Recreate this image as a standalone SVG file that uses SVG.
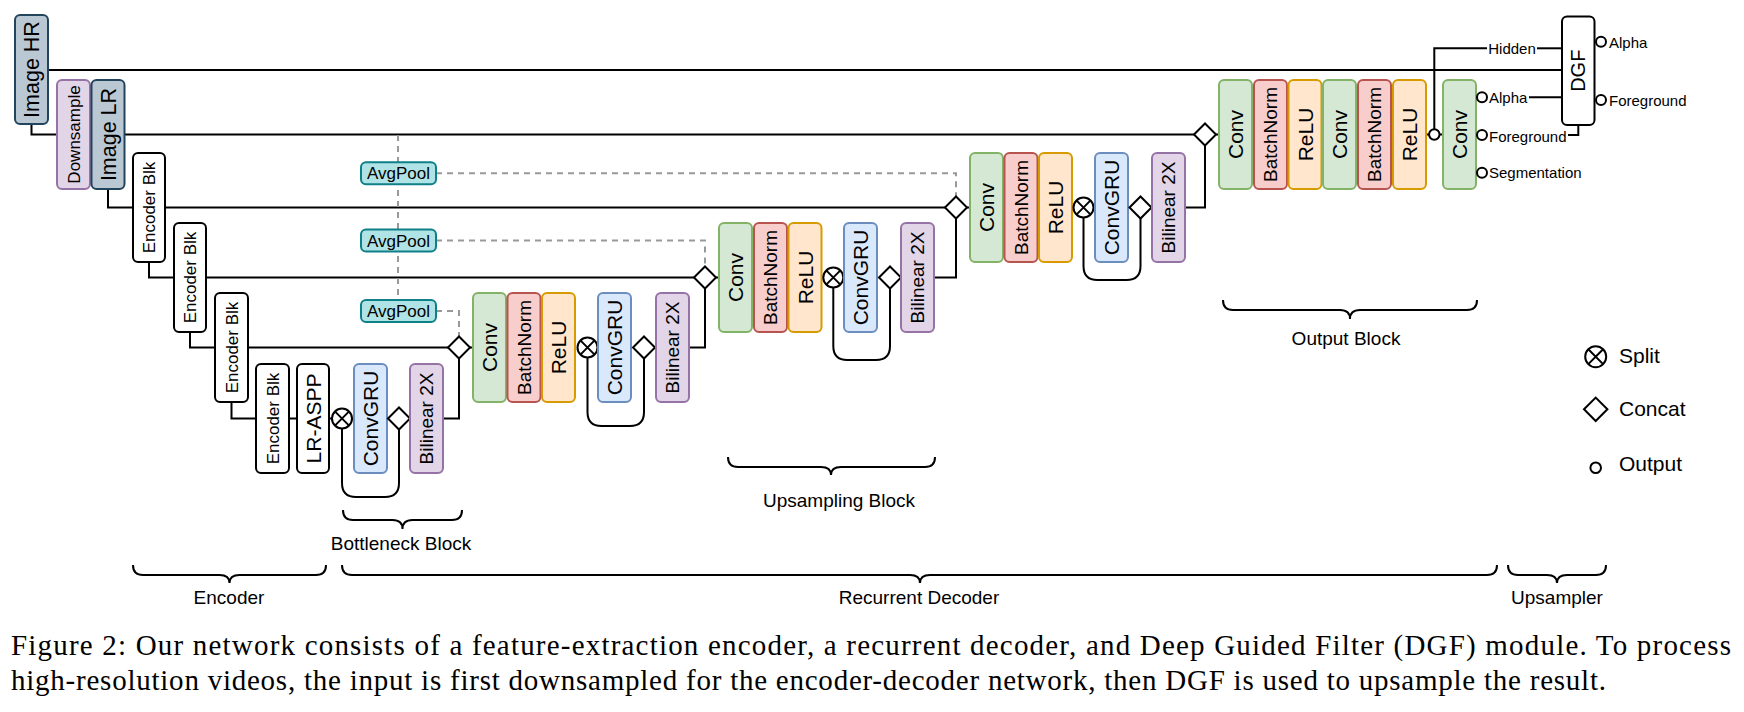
<svg xmlns="http://www.w3.org/2000/svg" width="1744" height="712" viewBox="0 0 1744 712">
<style>
text{font-family:"Liberation Sans",Arial,Helvetica,sans-serif;fill:#000}
.b{stroke-width:2}
.w{fill:#fff;stroke:#000}
.img{fill:#bac8d3;stroke:#23445d}
.pu{fill:#e1d5e7;stroke:#9673a6}
.gr{fill:#d5e8d4;stroke:#82b366}
.rd{fill:#f8cecc;stroke:#b85450}
.or{fill:#ffe6cc;stroke:#d79b00}
.bl{fill:#dae8fc;stroke:#6c8ebf}
.te{fill:#b0e3e6;stroke:#0e8088}
.vt{text-anchor:middle}
.f21{font-size:21px}
.f19{font-size:19px}
.f17{font-size:17px}
.f15{font-size:15px}
.lbl{font-size:19px;text-anchor:middle}
.ln{fill:none;stroke:#000;stroke-width:2}
.dash{fill:none;stroke:#999;stroke-width:2;stroke-dasharray:6 5}
.sym{fill:#fff;stroke:#000;stroke-width:2}
text.cap{font-family:"Liberation Serif","Times New Roman",serif;font-size:29px}
</style>

<!-- connectors -->
<g id="connectors">
  <path class="ln" d="M48 70 H1562"/>
  <path class="ln" d="M31.5 124 V134.5 H57"/>
  <path class="ln" d="M124.5 134.5 H1194"/>
  <path class="ln" d="M108 189 V207.5 H133"/>
  <path class="ln" d="M165 207.5 H945"/>
  <path class="ln" d="M149 262 V277.5 H174"/>
  <path class="ln" d="M206 277.5 H694"/>
  <path class="ln" d="M190 332 V347.5 H215"/>
  <path class="ln" d="M248 347.5 H448"/>
  <path class="ln" d="M231.5 402 V418.5 H256"/>
  <path class="ln" d="M289 418.5 H297"/>
  <path class="ln" d="M329 418.5 H332"/>
  <path class="ln" d="M352 418.5 H354"/>
  <path class="ln" d="M387 418.5 H388"/>
  <path class="ln" d="M342 428.5 V483 Q342 497 356 497 H385 Q399 497 399 483 V429.5"/>
  <path class="ln" d="M443 418.5 H459 V358.5"/>
  <path class="ln" d="M470 347.5 H473"/>
  <path class="ln" d="M587.5 357.5 V412 Q587.5 426 601.5 426 H630 Q644 426 644 412 V358.5"/>
  <path class="ln" d="M689 347.5 H705 V288.5"/>
  <path class="ln" d="M716 277.5 H719"/>
  <path class="ln" d="M833.3 287.5 V346 Q833.3 360 847.3 360 H876 Q890 360 890 346 V288.5"/>
  <path class="ln" d="M934 277.5 H956 V218.5"/>
  <path class="ln" d="M967 207.5 H970"/>
  <path class="ln" d="M1083.5 217.5 V266 Q1083.5 280 1097.5 280 H1126.5 Q1140.5 280 1140.5 266 V218.5"/>
  <path class="ln" d="M1185 207.5 H1205 V145.5"/>
  <path class="ln" d="M1216 134.5 H1219"/>
  <path class="ln" d="M1426 134.5 H1429"/>
  <path class="ln" d="M1439.5 134.5 H1443"/>
  <path class="ln" d="M1434.3 129 V48.3 H1487"/>
  <path class="ln" d="M1537 48.3 H1562"/>
  <path class="ln" d="M1529 97.3 H1562"/>
  <path class="ln" d="M1568 135 H1578.3 V125"/>
  <path class="dash" d="M398 135 V300"/>
  <path class="dash" d="M436 173.3 H956 V196.5"/>
  <path class="dash" d="M436 240.5 H705 V266.5"/>
  <path class="dash" d="M436 311 H459 V336.5"/>
</g>

<!-- encoder side -->
<g id="image-hr"><rect class="b img" x="15" y="15" width="33" height="109" rx="5"/><text class="vt" style="font-size:21.5px" transform="translate(39.2,69.5) rotate(-90)">Image HR</text></g>
<g id="downsample"><rect class="b pu" x="57" y="80" width="33" height="109" rx="5"/><text class="vt f17" transform="translate(79.6,134.5) rotate(-90)">Downsample</text></g>
<g id="image-lr"><rect class="b img" x="91.5" y="80" width="33" height="109" rx="5"/><text class="vt" style="font-size:21.5px" transform="translate(115.7,134.5) rotate(-90)">Image LR</text></g>
<g id="enc1"><rect class="b w" x="133" y="153" width="32" height="109" rx="5"/><text class="vt f17" transform="translate(155.1,207.5) rotate(-90)">Encoder Blk</text></g>
<g id="enc2"><rect class="b w" x="174" y="223" width="32" height="109" rx="5"/><text class="vt f17" transform="translate(196.1,277.5) rotate(-90)">Encoder Blk</text></g>
<g id="enc3"><rect class="b w" x="215" y="293" width="33" height="109" rx="5"/><text class="vt f17" transform="translate(237.6,347.5) rotate(-90)">Encoder Blk</text></g>
<g id="enc4"><rect class="b w" x="256" y="364" width="33" height="109" rx="5"/><text class="vt f17" transform="translate(278.6,418.5) rotate(-90)">Encoder Blk</text></g>
<g id="lraspp"><rect class="b w" x="297" y="364" width="32" height="109" rx="5"/><text class="vt f21" transform="translate(320.5,418.5) rotate(-90)">LR-ASPP</text></g>

<!-- avgpool -->
<g id="avgpool1"><rect class="b te" x="361" y="162.3" width="75" height="22" rx="5"/><text class="f17" x="398.5" y="179.4" text-anchor="middle">AvgPool</text></g>
<g id="avgpool2"><rect class="b te" x="361" y="229.5" width="75" height="22" rx="5"/><text class="f17" x="398.5" y="246.6" text-anchor="middle">AvgPool</text></g>
<g id="avgpool3"><rect class="b te" x="361" y="300" width="75" height="22" rx="5"/><text class="f17" x="398.5" y="317.1" text-anchor="middle">AvgPool</text></g>

<!-- bottleneck -->
<g id="split0"><circle class="sym" cx="342" cy="418.5" r="10"/><path class="ln" d="M334.9 411.4 L349.1 425.6 M349.1 411.4 L334.9 425.6"/></g>
<g id="gru0"><rect class="b bl" x="354" y="364" width="33" height="109" rx="5"/><text class="vt f21" transform="translate(378,418.5) rotate(-90)">ConvGRU</text></g>
<g id="concat0"><polygon class="sym" points="388,418.5 399,407.5 410,418.5 399,429.5"/></g>
<g id="bil0"><rect class="b pu" x="410" y="364" width="33" height="109" rx="5"/><text class="vt f19" transform="translate(433.3,418.5) rotate(-90)">Bilinear 2X</text></g>

<!-- decoder 1 -->
<g id="concat1"><polygon class="sym" points="448,347.5 459,336.5 470,347.5 459,358.5"/></g>
<g id="conv1"><rect class="b gr" x="473" y="293" width="33" height="109" rx="5"/><text class="vt f21" transform="translate(497,347.5) rotate(-90)">Conv</text></g>
<g id="bn1"><rect class="b rd" x="507.5" y="293" width="33" height="109" rx="5"/><text class="vt f19" transform="translate(530.8,347.5) rotate(-90)">BatchNorm</text></g>
<g id="relu1"><rect class="b or" x="542" y="293" width="33" height="109" rx="5"/><text class="vt f21" transform="translate(566,347.5) rotate(-90)">ReLU</text></g>
<g id="split1"><circle class="sym" cx="587.5" cy="347.5" r="10"/><path class="ln" d="M580.4 340.4 L594.6 354.6 M594.6 340.4 L580.4 354.6"/></g>
<g id="gru1"><rect class="b bl" x="598" y="293" width="33" height="109" rx="5"/><text class="vt f21" transform="translate(622,347.5) rotate(-90)">ConvGRU</text></g>
<g id="concat1b"><polygon class="sym" points="633,347.5 644,336.5 655,347.5 644,358.5"/></g>
<g id="bil1"><rect class="b pu" x="656" y="293" width="33" height="109" rx="5"/><text class="vt f19" transform="translate(679.3,347.5) rotate(-90)">Bilinear 2X</text></g>

<!-- decoder 2 -->
<g id="concat2"><polygon class="sym" points="694,277.5 705,266.5 716,277.5 705,288.5"/></g>
<g id="conv2"><rect class="b gr" x="719" y="223" width="33" height="109" rx="5"/><text class="vt f21" transform="translate(743,277.5) rotate(-90)">Conv</text></g>
<g id="bn2"><rect class="b rd" x="754" y="223" width="33" height="109" rx="5"/><text class="vt f19" transform="translate(777.3,277.5) rotate(-90)">BatchNorm</text></g>
<g id="relu2"><rect class="b or" x="788.5" y="223" width="33" height="109" rx="5"/><text class="vt f21" transform="translate(812.5,277.5) rotate(-90)">ReLU</text></g>
<g id="split2"><circle class="sym" cx="833.3" cy="277.5" r="10"/><path class="ln" d="M826.2 270.4 L840.4 284.6 M840.4 270.4 L826.2 284.6"/></g>
<g id="gru2"><rect class="b bl" x="844" y="223" width="33" height="109" rx="5"/><text class="vt f21" transform="translate(868,277.5) rotate(-90)">ConvGRU</text></g>
<g id="concat2b"><polygon class="sym" points="879,277.5 890,266.5 901,277.5 890,288.5"/></g>
<g id="bil2"><rect class="b pu" x="901" y="223" width="33" height="109" rx="5"/><text class="vt f19" transform="translate(924.3,277.5) rotate(-90)">Bilinear 2X</text></g>

<!-- decoder 3 -->
<g id="concat3"><polygon class="sym" points="945,207.5 956,196.5 967,207.5 956,218.5"/></g>
<g id="conv3"><rect class="b gr" x="970" y="153" width="33" height="109" rx="5"/><text class="vt f21" transform="translate(994,207.5) rotate(-90)">Conv</text></g>
<g id="bn3"><rect class="b rd" x="1004.5" y="153" width="33" height="109" rx="5"/><text class="vt f19" transform="translate(1027.8,207.5) rotate(-90)">BatchNorm</text></g>
<g id="relu3"><rect class="b or" x="1039" y="153" width="33" height="109" rx="5"/><text class="vt f21" transform="translate(1063,207.5) rotate(-90)">ReLU</text></g>
<g id="split3"><circle class="sym" cx="1083.5" cy="207.5" r="10"/><path class="ln" d="M1076.4 200.4 L1090.6 214.6 M1090.6 200.4 L1076.4 214.6"/></g>
<g id="gru3"><rect class="b bl" x="1095" y="153" width="33" height="109" rx="5"/><text class="vt f21" transform="translate(1119,207.5) rotate(-90)">ConvGRU</text></g>
<g id="concat3b"><polygon class="sym" points="1129.5,207.5 1140.5,196.5 1151.5,207.5 1140.5,218.5"/></g>
<g id="bil3"><rect class="b pu" x="1152" y="153" width="33" height="109" rx="5"/><text class="vt f19" transform="translate(1175.3,207.5) rotate(-90)">Bilinear 2X</text></g>

<!-- output block -->
<g id="concat4"><polygon class="sym" points="1194,134.5 1205,123.5 1216,134.5 1205,145.5"/></g>
<g id="oconv1"><rect class="b gr" x="1219" y="80" width="33" height="109" rx="5"/><text class="vt f21" transform="translate(1243,134.5) rotate(-90)">Conv</text></g>
<g id="obn1"><rect class="b rd" x="1254" y="80" width="33" height="109" rx="5"/><text class="vt f19" transform="translate(1277.3,134.5) rotate(-90)">BatchNorm</text></g>
<g id="orelu1"><rect class="b or" x="1288.5" y="80" width="33" height="109" rx="5"/><text class="vt f21" transform="translate(1312.5,134.5) rotate(-90)">ReLU</text></g>
<g id="oconv2"><rect class="b gr" x="1323" y="80" width="33" height="109" rx="5"/><text class="vt f21" transform="translate(1347,134.5) rotate(-90)">Conv</text></g>
<g id="obn2"><rect class="b rd" x="1358" y="80" width="33" height="109" rx="5"/><text class="vt f19" transform="translate(1381.3,134.5) rotate(-90)">BatchNorm</text></g>
<g id="orelu2"><rect class="b or" x="1393" y="80" width="33" height="109" rx="5"/><text class="vt f21" transform="translate(1417,134.5) rotate(-90)">ReLU</text></g>
<g id="hidden-out"><circle class="sym" cx="1434.3" cy="134.5" r="5.2"/></g>
<g id="oconv3"><rect class="b gr" x="1443" y="80" width="33" height="109" rx="5"/><text class="vt f21" transform="translate(1467,134.5) rotate(-90)">Conv</text></g>
<g id="out-alpha"><circle class="sym" cx="1482" cy="97.3" r="5"/><text class="f15" x="1489" y="102.5">Alpha</text></g>
<g id="out-fg"><circle class="sym" cx="1482" cy="135" r="5"/><text class="f15" x="1489" y="142">Foreground</text></g>
<g id="out-seg"><circle class="sym" cx="1482" cy="172.7" r="5"/><text class="f15" x="1489" y="178">Segmentation</text></g>
<g id="hidden-label"><text class="f15" x="1512" y="53.5" text-anchor="middle">Hidden</text></g>

<!-- DGF -->
<g id="dgf"><rect class="b w" x="1562" y="16.5" width="32.5" height="108.5" rx="5"/><text class="vt" style="font-size:20px" transform="translate(1585.4,70.75) rotate(-90)">DGF</text></g>
<g id="dgf-alpha"><circle class="sym" cx="1601" cy="41.7" r="5"/><text class="f15" x="1609" y="47.5">Alpha</text></g>
<g id="dgf-fg"><circle class="sym" cx="1601" cy="100" r="5"/><text class="f15" x="1609" y="105.8">Foreground</text></g>

<!-- braces -->
<g id="braces">
  <path class="ln" d="M728 457 Q728 467 738 467 H821 Q831 467 831 475 Q831 467 841 467 H925 Q935 467 935 457"/>
  <path class="ln" d="M343 510 Q343 520 353 520 H392.5 Q402.5 520 402.5 529 Q402.5 520 412.5 520 H452 Q462 520 462 510"/>
  <path class="ln" d="M1223 300 Q1223 310 1233 310 H1340 Q1350 310 1350 319 Q1350 310 1360 310 H1467 Q1477 310 1477 300"/>
  <path class="ln" d="M133 565 Q133 575 143 575 H219.5 Q229.5 575 229.5 583 Q229.5 575 239.5 575 H316 Q326 575 326 565"/>
  <path class="ln" d="M342 565 Q342 575 352 575 H910 Q920 575 920 583 Q920 575 930 575 H1487 Q1497 575 1497 565"/>
  <path class="ln" d="M1508 565 Q1508 575 1518 575 H1547 Q1557 575 1557 583 Q1557 575 1567 575 H1596 Q1606 575 1606 565"/>
</g>
<g id="brace-labels">
  <text class="lbl" x="839" y="507">Upsampling Block</text>
  <text class="lbl" x="401" y="550">Bottleneck Block</text>
  <text class="lbl" x="1346" y="345">Output Block</text>
  <text class="lbl" x="229" y="604">Encoder</text>
  <text class="lbl" x="919" y="604">Recurrent Decoder</text>
  <text class="lbl" x="1557" y="604">Upsampler</text>
</g>

<!-- legend -->
<g id="legend">
  <circle class="sym" cx="1595.7" cy="356.7" r="10.5"/>
  <path class="ln" d="M1588.3 349.3 L1603.1 364.1 M1603.1 349.3 L1588.3 364.1"/>
  <text class="f21" x="1619" y="362.5">Split</text>
  <polygon class="sym" points="1584,409.3 1595.7,397.6 1607.4,409.3 1595.7,421"/>
  <text class="f21" x="1619" y="416">Concat</text>
  <circle class="sym" cx="1595.7" cy="467.7" r="5.3"/>
  <text class="f21" x="1619" y="471">Output</text>
</g>

<!-- caption -->
<g id="caption">
  <text class="cap" x="11" y="655" textLength="1720" lengthAdjust="spacing">Figure 2: Our network consists of a feature-extraction encoder, a recurrent decoder, and Deep Guided Filter (DGF) module.  To process</text>
  <text class="cap" x="11" y="690" textLength="1595" lengthAdjust="spacing">high-resolution videos, the input is first downsampled for the encoder-decoder network, then DGF is used to upsample the result.</text>
</g>
</svg>
